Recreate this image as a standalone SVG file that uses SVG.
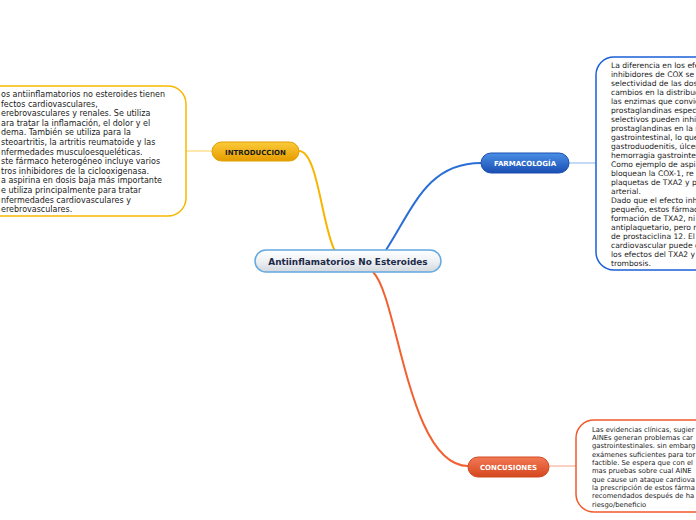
<svg xmlns="http://www.w3.org/2000/svg" width="696" height="520" viewBox="0 0 696 520">
<defs>
<linearGradient id="gC" x1="0" y1="0" x2="0" y2="1"><stop offset="0" stop-color="#ffffff"/><stop offset="0.5" stop-color="#eef1f4"/><stop offset="1" stop-color="#d3d8de"/></linearGradient>
<linearGradient id="gY" x1="0" y1="0" x2="0" y2="1"><stop offset="0" stop-color="#fbcb3a"/><stop offset="1" stop-color="#e59c00"/></linearGradient>
<linearGradient id="gB" x1="0" y1="0" x2="0" y2="1"><stop offset="0" stop-color="#4a8fe6"/><stop offset="1" stop-color="#1a4eb2"/></linearGradient>
<linearGradient id="gO" x1="0" y1="0" x2="0" y2="1"><stop offset="0" stop-color="#f27a55"/><stop offset="1" stop-color="#d5471e"/></linearGradient>
</defs>
<style>
.t{font-family:"DejaVu Sans",Verdana,sans-serif;fill:#1a1a1a}
.lbl{font-family:"DejaVu Sans",Verdana,sans-serif;font-weight:bold;text-anchor:middle}
.box{fill:#ffffff;stroke-width:1.5}
.conn{fill:none}
</style>
<rect width="696" height="520" fill="#ffffff"/>
<g id="connectors">
<path class="conn" d="M299,151 C318,151 322,228 335,251" stroke="#f7b500" stroke-width="2"/>
<path class="conn" d="M386,250 C414,206 428,163 481,163" stroke="#2a6fd8" stroke-width="2"/>
<path class="conn" d="M373,272 C398,296 408,466 468,466" stroke="#f2602f" stroke-width="2"/>
<line x1="186" y1="151" x2="213" y2="151" stroke="#fbd060" stroke-width="1"/>
<line x1="569" y1="163" x2="596" y2="163" stroke="#8ab4ec" stroke-width="1"/>
<line x1="549" y1="466" x2="576" y2="466" stroke="#f5a080" stroke-width="1"/>
</g>
<g id="center">
<rect x="255" y="250" width="186" height="22" rx="11" fill="url(#gC)" stroke="#62a8e0" stroke-width="1.5"/>
<text class="lbl" x="348" y="265" font-size="8.9" fill="#1c2a48">Antiinflamatorios No Esteroides</text>
</g>
<g id="introduccion">
<rect x="212" y="142" width="87" height="19" rx="9.5" fill="url(#gY)" stroke="#e0a000" stroke-width="1"/>
<text class="lbl" x="255.5" y="154.5" font-size="7" fill="#1a1a1a">INTRODUCCION</text>
</g>
<g id="farmacologia">
<rect x="481" y="153" width="88" height="20" rx="10" fill="url(#gB)" stroke="#1a4eb2" stroke-width="1"/>
<text class="lbl" x="525" y="166" font-size="7" fill="#ffffff">FARMACOLOGÍA</text>
</g>
<g id="concusiones">
<rect x="468" y="457" width="81" height="20" rx="10" fill="url(#gO)" stroke="#d04a20" stroke-width="1"/>
<text class="lbl" x="508.5" y="470" font-size="7" fill="#ffffff">CONCUSIONES</text>
</g>
<g id="intro-text">
<rect class="box" x="-30" y="86" width="216" height="130" rx="18" stroke="#f7b800"/>
<text class="t" font-size="8" x="1">
<tspan x="1" y="97">os antiinflamatorios no esteroides tienen</tspan>
<tspan x="1" y="106.6">fectos cardiovasculares,</tspan>
<tspan x="1" y="116.2">erebrovasculares y renales. Se utiliza</tspan>
<tspan x="1" y="125.8">ara tratar la inflamación, el dolor y el</tspan>
<tspan x="1" y="135.4">dema. También se utiliza para la</tspan>
<tspan x="1" y="145">steoartritis, la artritis reumatoide y las</tspan>
<tspan x="1" y="154.6">nfermedades musculoesqueléticas.</tspan>
<tspan x="1" y="164.2">ste fármaco heterogéneo incluye varios</tspan>
<tspan x="1" y="173.8">tros inhibidores de la ciclooxigenasa.</tspan>
<tspan x="1" y="183.4">a aspirina en dosis baja más importante</tspan>
<tspan x="1" y="193">e utiliza principalmente para tratar</tspan>
<tspan x="1" y="202.6">nfermedades cardiovasculares y</tspan>
<tspan x="1" y="212.2">erebrovasculares.</tspan>
</text>
</g>
<g id="farmacologia-text">
<rect class="box" x="596" y="57" width="130" height="213" rx="18" stroke="#1a5fd6"/>
<text class="t" font-size="7.6">
<tspan x="611" y="68">La diferencia en los efe</tspan>
<tspan x="611" y="77">inhibidores de COX se</tspan>
<tspan x="611" y="86">selectividad de las dos</tspan>
<tspan x="611" y="95">cambios en la distribuc</tspan>
<tspan x="611" y="104">las enzimas que convie</tspan>
<tspan x="611" y="113">prostaglandinas espec</tspan>
<tspan x="611" y="122">selectivos pueden inhib</tspan>
<tspan x="611" y="131">prostaglandinas en la m</tspan>
<tspan x="611" y="140">gastrointestinal, lo que</tspan>
<tspan x="611" y="149">gastroduodenitis, úlcer</tspan>
<tspan x="611" y="158">hemorragia gastrointe</tspan>
<tspan x="611" y="167">Como ejemplo de aspi</tspan>
<tspan x="611" y="176">bloquean la COX-1, re</tspan>
<tspan x="611" y="185">plaquetas de TXA2 y p</tspan>
<tspan x="611" y="194">arterial.</tspan>
<tspan x="611" y="203">Dado que el efecto inh</tspan>
<tspan x="611" y="212">pequeño, estos fármac</tspan>
<tspan x="611" y="221">formación de TXA2, ni</tspan>
<tspan x="611" y="230">antiplaquetario, pero n</tspan>
<tspan x="611" y="239">de prostaciclina 12. El</tspan>
<tspan x="611" y="248">cardiovascular puede c</tspan>
<tspan x="611" y="257">los efectos del TXA2 y</tspan>
<tspan x="611" y="266">trombosis.</tspan>
</text>
</g>
<g id="concusiones-text">
<rect class="box" x="576" y="420" width="150" height="92" rx="18" stroke="#ee5a2c"/>
<text class="t" font-size="6.8">
<tspan x="592" y="431.8">Las evidencias clínicas, sugier</tspan>
<tspan x="592" y="440.1">AINEs generan problemas car</tspan>
<tspan x="592" y="448.4">gastrointestinales. sin embarg</tspan>
<tspan x="592" y="456.8">exámenes suficientes para tor</tspan>
<tspan x="592" y="465.1">factible. Se espera que con el</tspan>
<tspan x="592" y="473.4">mas pruebas sobre cual AINE</tspan>
<tspan x="592" y="481.8">que cause un ataque cardiova</tspan>
<tspan x="592" y="490.1">la prescripción de estos fárma</tspan>
<tspan x="592" y="498.4">recomendados después de ha</tspan>
<tspan x="592" y="506.8">riesgo/beneficio</tspan>
</text>
</g>
</svg>
